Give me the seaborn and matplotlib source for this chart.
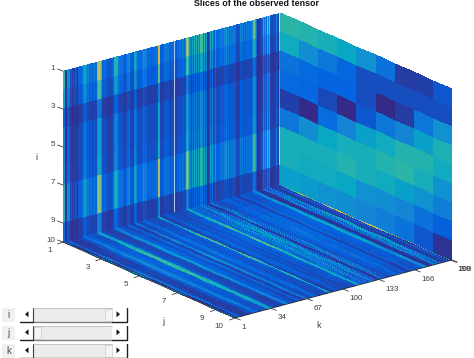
"""Slices of the observed tensor, drawn as three sheared seaborn heatmaps."""

import matplotlib

matplotlib.use("Agg")
import matplotlib.pyplot as plt
import numpy as np
import seaborn as sns
from matplotlib.colors import LinearSegmentedColormap
from matplotlib.patches import Polygon, Rectangle
from matplotlib.transforms import Affine2D

# one level per k slice (k = 1 .. 199), read along the top of the left wall
k_levels = [
    0.50, 0.48, 0.03, 0.03, 0.30, 0.28, 0.08, 0.12, 0.05, 0.10,
    0.06, 0.12, 0.08, 0.05, 0.12, 0.16, 0.14, 0.18, 0.30, 0.36,
    0.40, 0.30, 0.20, 0.25, 0.15, 0.18, 0.20, 0.15, 0.22, 0.15,
    0.16, 0.62, 0.70, 0.72, 0.64, 0.50, 0.15, 0.14, 0.16, 0.12,
    0.10, 0.09, 0.11, 0.10, 0.09, 0.12, 0.20, 0.42, 0.48, 0.44,
    0.22, 0.20, 0.18, 0.20, 0.19, 0.14, 0.12, 0.13, 0.14, 0.25,
    0.26, 0.14, 0.10, 0.12, 0.09, 0.38, 0.42, 0.30, 0.16, 0.15,
    0.14, 0.16, 0.18, 0.30, 0.22, 0.30, 0.18, 0.16, 0.15, 0.14,
    0.17, 0.13, 0.15, 0.16, 0.14, 0.18, 0.20, 0.75, 0.72, 0.12,
    0.10, 0.14, 0.12, 0.20, 0.22, 0.18, 0.21, 0.14, 0.12, 0.15,
    0.16, 0.15, 0.18, 0.12, 0.11, 0.14, 0.20, 0.18, 0.12, 0.22,
    0.20, 0.16, 0.22, 0.62, 0.78, 0.58, 0.30, 0.16, 0.36, 0.18,
    0.44, 0.20, 0.46, 0.16, 0.42, 0.22, 0.52, 0.50, 0.20, 0.46,
    0.18, 0.32, 0.03, 0.04, 0.12, 0.40, 0.18, 0.42, 0.14, 0.36,
    0.15, 0.14, 0.16, 0.15, 0.20, 0.22, 0.18, 0.20, 0.24, 0.30,
    0.18, 0.30, 0.14, 0.22, 0.18, 0.20, 0.22, 0.20, 0.18, 0.10,
    0.08, 0.12, 0.25, 0.16, 0.24, 0.15, 0.18, 0.16, 0.20, 0.18,
    0.19, 0.18, 0.20, 0.30, 0.55, 0.58, 0.45, 0.20, 0.03, 0.02,
    0.05, 0.06, 0.10, 0.45, 0.20, 0.42, 0.15, 0.60, 0.30, 0.55,
    0.10, 0.08, 0.07, 0.09, 0.08, 0.25, 0.12, 0.05, 0.98,
]
# k slice that shows up pale on the left wall
wall_gap_k = [103]

# brightness of each i band on the left wall, and each j band on the floor
i_band_levels = [1.00, 0.75, 0.30, 0.50, 0.50, 0.55, 0.90, 0.90, 0.32]
j_band_levels = [0.50, 0.60, 0.70, 0.72, 0.70, 0.65, 0.60, 0.58, 0.50]

# right wall cells, rows are i and columns are j
right_wall = [
    [0.47, 0.45, 0.42, 0.38, 0.30, 0.18, 0.04, 0.05, 0.10],
    [0.40, 0.28, 0.20, 0.14, 0.08, 0.08, 0.08, 0.08, 0.08],
    [0.18, 0.15, 0.13, 0.13, 0.08, 0.00, 0.04, 0.20, 0.30],
    [0.15, 0.14, 0.07, 0.00, 0.10, 0.20, 0.25, 0.35, 0.43],
    [0.05, 0.00, 0.16, 0.25, 0.35, 0.40, 0.45, 0.45, 0.40],
    [0.20, 0.28, 0.38, 0.42, 0.42, 0.45, 0.47, 0.42, 0.30],
    [0.42, 0.42, 0.42, 0.45, 0.42, 0.40, 0.35, 0.30, 0.22],
    [0.42, 0.40, 0.40, 0.38, 0.30, 0.28, 0.25, 0.18, 0.12],
    [0.35, 0.33, 0.30, 0.28, 0.25, 0.22, 0.18, 0.10, 0.02],
]

i_ticks = [1, 3, 5, 7, 9, 10]
j_ticks = [1, 3, 5, 7, 9, 10]
k_ticks = [1, 34, 67, 100, 133, 166, 199, 200]

slider_names = ["i", "j", "k"]
slider_thumbs = [1.0, 0.0, 1.0]

parula = LinearSegmentedColormap.from_list(
    "parula",
    ["#352a87", "#0363e1", "#1485d4", "#06a7c6", "#38b99e",
     "#92bf73", "#d9ba56", "#fcce2e", "#f9fb0e"],
)

TICK_COLOR = "#404040"
BACK_LEFT = np.array([63.0, 71.0])
BACK_CORNER = np.array([280.0, 13.0])
WALL_HEIGHT = 171.0
K_STEP = (BACK_CORNER - BACK_LEFT) / 199
J_STEP = np.array([172.0, 76.0]) / 9
I_STEP = np.array([0.0, WALL_HEIGHT / 9])


def draw_slice(ax, cells, origin, col_step, row_step):
    """Heatmap one slice, then shear its mesh onto the box face."""
    sns.heatmap(
        cells, cmap=parula, vmin=0, vmax=1, cbar=False,
        xticklabels=False, yticklabels=False, ax=ax,
    )
    mesh = ax.collections[-1]
    shear = Affine2D.from_values(
        col_step[0], col_step[1], row_step[0], row_step[1], origin[0], origin[1]
    )
    mesh.set_transform(shear + ax.transData)


def draw_ticks(ax, start, step, values, tick_vec, label_vec, ha):
    for value in values:
        pos = start + step * (value - values[0])
        end = pos + tick_vec
        ax.plot([pos[0], end[0]], [pos[1], end[1]], color=TICK_COLOR, lw=0.6)
        ax.text(
            pos[0] + label_vec[0], pos[1] + label_vec[1], str(value),
            ha=ha, va="center", fontsize=5.8, color=TICK_COLOR,
        )


def draw_slider(ax, name, thumb, top):
    height = 13.5
    ax.add_patch(Rectangle((2, top), 13, height, fc="#f0f0f0", ec="none"))
    ax.text(8.5, top + height / 2, name, ha="center", va="center",
            fontsize=7, color="#505050")
    # trough and thumb
    ax.add_patch(Rectangle((33, top), 79, height, fc="#ececec", ec="none"))
    ax.plot([33, 112], [top + height, top + height], color="#808080", lw=1.0)
    ax.plot([33, 33], [top, top + height], color="#404040", lw=0.8)
    ax.plot([33, 112], [top, top], color="#b0b0b0", lw=0.5)
    thumb_x = 34 + thumb * 71
    ax.add_patch(Rectangle((thumb_x, top + 0.5), 7, height - 1, fc="#f4f4f4",
                           ec="#c4c4c4", lw=0.4))
    # arrow buttons with their dark lower edge
    ax.plot([20, 33], [top + height, top + height], color="#202020", lw=1.0)
    ax.plot([112, 127, 127], [top + height, top + height, top], color="#202020", lw=1.0)
    mid = top + height / 2 - 0.5
    ax.add_patch(Polygon([[28.5, mid - 3], [28.5, mid + 3], [25, mid]], fc="#101010", ec="none"))
    ax.add_patch(Polygon([[116.5, mid - 3], [116.5, mid + 3], [120, mid]], fc="#101010", ec="none"))


sns.set_theme(style="white")
plt.rcParams["font.family"] = ["Liberation Sans", "DejaVu Sans"]

fig = plt.figure(figsize=(4.74, 3.58), dpi=100)
ax = fig.add_axes([0, 0, 1, 1])

k_array = np.array(k_levels)
wall = np.outer(i_band_levels, k_array)
wall[:, np.array(wall_gap_k) - 1] = np.nan
floor = np.outer(j_band_levels, k_array)

floor_left = BACK_LEFT + I_STEP * 9
front_corner = floor_left + J_STEP * 9

# pale backing that shows through the gap in the left wall
ax.add_patch(Polygon(
    [BACK_LEFT, BACK_CORNER, BACK_CORNER + I_STEP * 9, floor_left],
    fc="#a9c8ef", ec="none",
))

draw_slice(ax, floor, floor_left, K_STEP, J_STEP)
draw_slice(ax, wall, BACK_LEFT, K_STEP, I_STEP)
draw_slice(ax, np.array(right_wall), BACK_CORNER, J_STEP, I_STEP)

# box edges along the front of the floor
ax.plot([floor_left[0], front_corner[0]], [floor_left[1], front_corner[1]],
        color="#303030", lw=0.6)
k_end = front_corner + K_STEP * 199
ax.plot([front_corner[0], k_end[0]], [front_corner[1], k_end[1]],
        color="#303030", lw=0.6)

draw_ticks(ax, BACK_LEFT, I_STEP, i_ticks, np.array([-5.5, -2.0]),
           np.array([-8.0, -2.0]), "right")
draw_ticks(ax, floor_left, J_STEP, j_ticks, np.array([-5.5, 2.0]),
           np.array([-11.5, 8.5]), "right")
draw_ticks(ax, front_corner, K_STEP, k_ticks, np.array([5.5, 2.0]),
           np.array([6.5, 9.5]), "left")

ax.text(36, 157, "i", ha="center", va="center", fontsize=6.5, color=TICK_COLOR)
ax.text(163, 322, "j", ha="center", va="center", fontsize=6.5, color=TICK_COLOR)
ax.text(319, 326, "k", ha="center", va="center", fontsize=6.5, color=TICK_COLOR)
ax.text(256.5, 4, "Slices of the observed tensor", ha="center", va="center",
        fontsize=6.4, fontweight="bold", color="#151515")

for name, thumb, top in zip(slider_names, slider_thumbs, [308.0, 326.0, 344.0]):
    draw_slider(ax, name, thumb, top)

ax.set_xlim(0, 474)
ax.set_ylim(358, 0)
ax.axis("off")

fig.savefig("out.png", dpi=100)
